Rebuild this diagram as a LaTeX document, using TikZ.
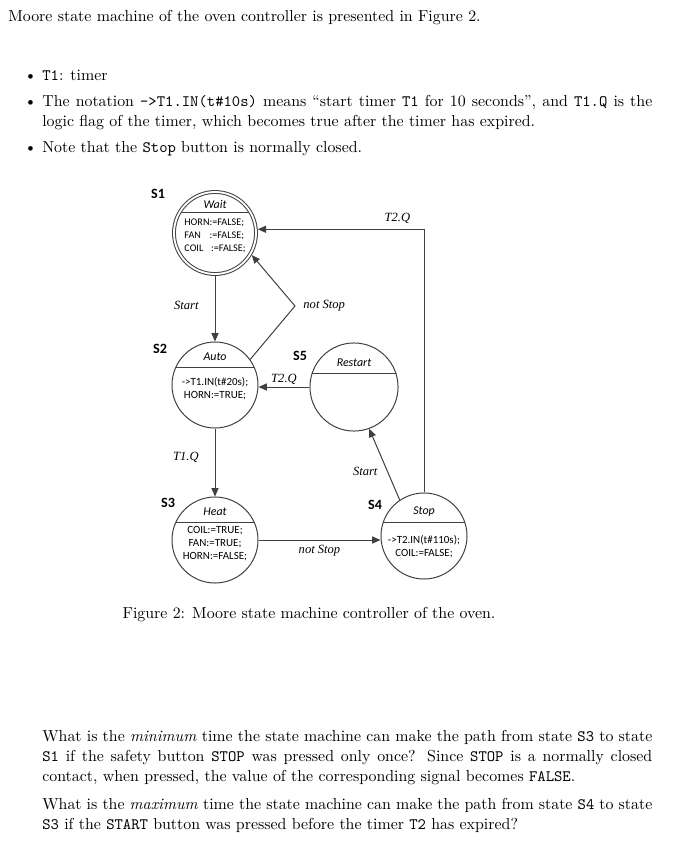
\documentclass[tikz,border=0pt]{standalone}
\usepackage{fontspec}
\newfontfamily\calib{Carlito}
\newfontfamily\tnr{Liberation Serif}
\usetikzlibrary{arrows.meta, positioning, calc}
\definecolor{lineg}{RGB}{64,64,64}

\tikzset{
  stcirc/.style={circle, draw=lineg, line width=0.63pt, minimum size=54.1pt, inner sep=0pt,
    path picture={\draw[lineg, line width=0.63pt] ([yshift=#1]path picture bounding box.west) -- ([yshift=#1]path picture bounding box.east);}},
  stname/.style={font=\calib\itshape\fontsize{7.5}{9}\selectfont, inner sep=0pt},
  stact/.style={font=\calib\fontsize{6.9}{8.2}\selectfont, align=center, inner sep=0pt},
  sttag/.style={font=\calib\bfseries\fontsize{8.9}{10}\selectfont, inner sep=0pt},
  trans/.style={draw=lineg, line width=0.63pt, -{Triangle[length=5.2pt,width=4.4pt]}},
  trlbl/.style={font=\tnr\itshape\fontsize{7.9}{9}\selectfont, inner sep=1pt},
  body/.style={anchor=base west, inner sep=0pt, font=\fontsize{10}{12.7}\selectfont},
  bodypar/.style={body, text width=383.7pt, align=justify},
}

\begin{document}
\begin{tikzpicture}[x=0.629pt, y=-0.629pt]
\useasboundingbox (0,0) rectangle (679,856);

% text above the figure
\node[body] (intro) at (8,22) {Moore state machine of the oven controller is presented in Figure 2.};
\node[body] (b1dot) at (24,81) {\textbullet};
\node[body] (b1) at (42,81) {\texttt{T1}: timer};
\node[body] (b2dot) at (24,106) {\textbullet};
\node[bodypar] (b2) at (42,106) {The notation \texttt{->T1.IN(t\#10s)} means ``start timer \texttt{T1} for 10 seconds'', and \texttt{T1.Q} is the\linebreak logic flag of the timer, which becomes true after the timer has expired.};
\node[body] (b3dot) at (24,153) {\textbullet};
\node[body] (b3) at (42,153) {Note that the \texttt{Stop} button is normally closed.};

% states
\node[stcirc=12.6pt, minimum size=51.6pt, double=white, double distance=1.15pt, outer sep=1.2pt] (s1) at (215,233) {};
\node[stcirc=11.3pt] (s2) at (215,385) {};
\node[stcirc=8.8pt, minimum size=55.4pt] (s5) at (354,387) {};
\node[stcirc=11.3pt] (s3) at (215,540) {};
\node[stcirc=8.8pt] (s4) at (424,536) {};

\node[stname] (s1name) at ($(s1)+(0,-29)$) {Wait};
\node[stname] (s2name) at ($(s2)+(0,-28)$) {Auto};
\node[stname] (s5name) at ($(s5)+(0,-24)$) {Restart};
\node[stname] (s3name) at ($(s3)+(0,-28)$) {Heat};
\node[stname] (s4name) at ($(s4)+(0,-24)$) {Stop};

\node[stact, align=left, font=\calib\fontsize{6.4}{8.2}\selectfont] (s1act) at ($(s1)+(0,3)$) {HORN:=FALSE;\\\rlap{FAN}\phantom{HORN}:=FALSE;\\\rlap{COIL}\phantom{HORN}\hspace{1pt}:=FALSE;};
\node[stact] (s2act) at ($(s2)+(0,4)$) {->T1.IN(t\#20s);\\HORN:=TRUE;};
\node[stact] (s3act) at ($(s3)+(0,4)$) {COIL:=TRUE;\\FAN:=TRUE;\\HORN:=FALSE;};
\node[stact] (s4act) at ($(s4)+(0,11)$) {->T2.IN(t\#110s);\\COIL:=FALSE;};

\node[sttag] (s1tag) at (158,194) {S1};
\node[sttag] (s2tag) at (160,349) {S2};
\node[sttag] (s5tag) at (300,356) {S5};
\node[sttag] (s3tag) at (168,503) {S3};
\node[sttag] (s4tag) at (375,505) {S4};

% transitions
\coordinate (nsbend) at (295,306);
\draw[trans] (s1) -- node[trlbl, left=9pt, pos=0.45] {Start} (s2);
\draw[trans] (s2.36) -- (nsbend) node[trlbl, right=4pt] {not Stop} -- (s1.-31);
\draw[trans] (s5.west) -- node[trlbl, above] {T2.Q} (s5.west -| s2.east);
\draw[trans] (s2) -- node[trlbl, left=9pt, pos=0.43] {T1.Q} (s3);
\draw[trans] (s3.east) -- node[trlbl, below=2pt] {not Stop} (s3.east -| s4.west);
\draw[trans] (s4.124) -- node[trlbl, left=5pt, pos=0.4] {Start} (s5.-70);
\draw[trans] (s4.north) |- node[trlbl, above=2pt, pos=0.58] {T2.Q} (s1.5);

% caption and questions
\node[body, anchor=base] (cap) at (309,618) {Figure 2: Moore state machine controller of the oven.};
\node[bodypar] (q1) at (42,741) {What is the \emph{minimum} time the state machine can make the path from state \texttt{S3} to state\linebreak \texttt{S1} if the safety button \texttt{STOP} was pressed only once? Since \texttt{STOP} is a normally closed\linebreak contact, when pressed, the value of the corresponding signal becomes \texttt{FALSE}.};
\node[bodypar] (q2) at (42,809) {What is the \emph{maximum} time the state machine can make the path from state \texttt{S4} to state\linebreak \texttt{S3} if the \texttt{START} button was pressed before the timer \texttt{T2} has expired?};
\end{tikzpicture}
\end{document}
